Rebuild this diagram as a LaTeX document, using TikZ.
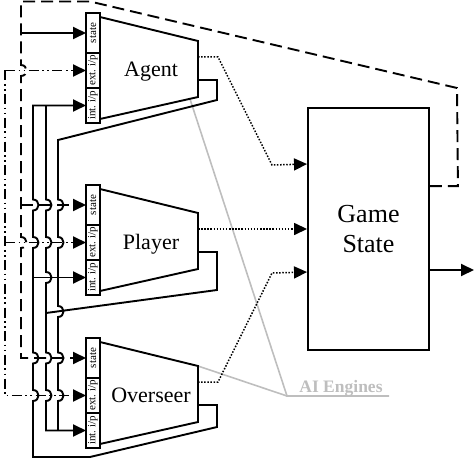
\documentclass[tikz,border=0pt]{standalone}
\usepackage{fontspec}
\setmainfont{Liberation Serif}
\usepackage{graphicx}
\usetikzlibrary{arrows.meta,positioning,calc}
\definecolor{aigrey}{RGB}{190,190,190}
\tikzset{
every picture/.style={
line width=1.9pt
}}

\begin{document}
\begin{tikzpicture}[x=1pt, y=-1pt,
port/.style = {rectangle, draw=black, line width=1.5pt, minimum width=14pt, inner sep=0pt, outer sep=0pt, font=\fontsize{11}{11}\selectfont},
arr/.style = {-{Triangle[length=13pt,width=12pt]}},
fbline/.style = {dash pattern=on 12pt off 6pt},
xline/.style = {dash pattern=on 10pt off 3.5pt on 1.6pt off 3.5pt on 1.6pt off 3.5pt},
dotline/.style = {line width=1.5pt, dash pattern=on 1.5pt off 1.6pt},
ailine/.style = {draw=aigrey, line width=1.6pt}]

\useasboundingbox (0,0) rectangle (474,460);

% buses on the left
\coordinate (xbus) at (5,0);
\coordinate (sbus) at (21,0);
\coordinate (obus) at (33,0);
\coordinate (pbus) at (46,0);
\coordinate (abus) at (58,0);

% AI engines label
\coordinate (aiC) at (287,396);
\node[text=aigrey, font=\bfseries\fontsize{17.5}{18}\selectfont, anchor=base] (ai) at (341,392) {AI Engines};
\draw[ailine] (190,99) -- (aiC) -- ++(102,0);
\draw[ailine] (198,366) -- (aiC);

% the three engines
\foreach \n/\yy/\lab in {ag/13/Agent, pl/185/Player, ov/338/Overseer}{
\node[port, minimum height=40pt] (\n S) at (93,\yy+20) {\rotatebox{90}{state}};
\node[port, minimum height=35pt, below=0pt of \n S] (\n E) {\rotatebox{90}{ext.\ i/p}};
\node[port, minimum height=35pt, below=0pt of \n E] (\n I) {\rotatebox{90}{int.\ i/p}};
\draw (100,\yy+4) -- (198,\yy+28) -- (198,\yy+84) -- (100,\yy+106) -- cycle;
\node[font=\fontsize{22}{22}\selectfont, anchor=base] (\n) at (151,\yy+64) {\lab};
\coordinate (\n O) at (198,\yy+44);
\coordinate (\n F) at (198,\yy+67);
}

\node[draw, minimum width=121pt, minimum height=242pt, align=center, font=\fontsize{26}{30}\selectfont] (gs) at (368.5,229) {Game\\State};

% outputs to the game state
\draw[dotline,arr] (agO) -- ++(20,0) -- (272,165) -- ($(gs.north west)+(0,57)$);
\draw[dotline,arr] (plO) -- (plO -| gs.west);
\draw[dotline,arr] (ovO) -- ++(20,0) -- (272,273) -- ($(gs.north west)+(0,165)$);

\coordinate (gsout) at (474,270);
\draw[arr] (gsout -| gs.east) -- (gsout);

% state fed back
\draw[fbline,arr] ($(gs.north east)+(0,79)$) -- ++(28,0) -- (457,88) -- (90,1.5) -- (21,1.5)
\foreach \y in {70.5,242.5}{ -- (21,\y-5.5) to[out=0,in=0,looseness=1.7] (21,\y+5.5)}
-- (sbus |- ovS.west) -- (ovS.west);
\draw[arr] (sbus |- agS.west) -- (agS.west);
\draw[fbline,arr] (sbus |- plS.west) -- (plS.west);

% external input
\draw[xline,arr] (xbus |- agE.west) -- (agE.west);
\draw[xline,arr] (xbus |- agE.west) -- (xbus |- ovE.west) -- (ovE.west);
\draw[xline,arr] (xbus |- plE.west) -- (plE.west);

% overseer out
\draw[arr] (ovF) -- ++(19,0) -- ++(0,22) -- (90,457) -- (33,457)
\foreach \y in {395.5,358,242.5,205}{ -- (33,\y+5.5) to[out=0,in=0,looseness=1.7] (33,\y-5.5)}
-- (obus |- agI.west) -- (agI.west);
\draw[arr] (obus |- plI.west) -- (plI.west);

% player out
\draw (plF) -- ++(19,0) -- (217,290) -- (46,313);
\draw[arr] (pbus |- agI.west)
\foreach \y in {205,242.5,277.5,358,395.5}{ -- (46,\y-5.5) to[out=0,in=0,looseness=1.7] (46,\y+5.5)}
-- (pbus |- ovI.west) -- (ovI.west);

% agent out
\draw (agF) -- ++(19,0) -- ++(0,20) -- (58,140)
\foreach \y in {205,242.5,311.5,358,395.5}{ -- (58,\y-5.5) to[out=0,in=0,looseness=1.7] (58,\y+5.5)}
-- (abus |- ovI.west);
\end{tikzpicture}
\end{document}
